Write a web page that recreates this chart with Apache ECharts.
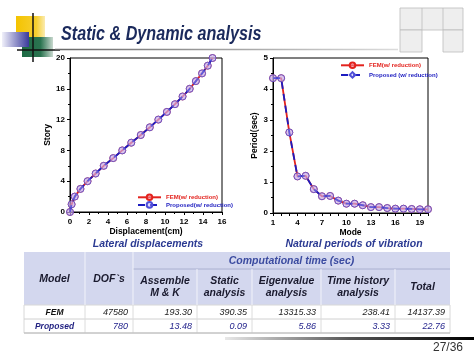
<!DOCTYPE html>
<html><head><meta charset="utf-8">
<script src="https://cdn.jsdelivr.net/npm/echarts@6/dist/echarts.min.js"></script>
<style>html,body{margin:0;padding:0;background:#fff}#c{width:474px;height:355px}</style>
</head><body><div id="c"></div>
<script>
// ---- data ----
const stories = [0,1,2,3,4,5,6,7,8,9,10,11,12,13,14,15,16,17,18,19,20];
const femDisp = [0,0.17,0.5,1.1,1.85,2.7,3.55,4.55,5.5,6.45,7.45,8.4,9.3,10.2,11.05,11.85,12.6,13.25,13.9,14.5,15.0];
const propDisp = [0,0.17,0.5,1.1,1.85,2.7,3.55,4.55,5.5,6.45,7.45,8.4,9.3,10.2,11.05,11.85,12.6,13.25,13.9,14.5,15.0];
const modes = [1,2,3,4,5,6,7,8,9,10,11,12,13,14,15,16,17,18,19,20];
const femPeriod = [4.35,4.35,2.6,1.18,1.2,0.77,0.54,0.55,0.4,0.3,0.3,0.25,0.19,0.19,0.16,0.14,0.14,0.13,0.12,0.12];
const propPeriod = [4.35,4.35,2.6,1.18,1.2,0.77,0.54,0.55,0.4,0.3,0.3,0.25,0.19,0.19,0.16,0.14,0.14,0.13,0.12,0.12];
const modeTicks = [1,4,7,10,13,16,19];

const tableModels = ['FEM','Proposed'];
const tableDofs = ['47580','780'];
const tAssemble = ['193.30','13.48'];
const tStatic = ['390.35','0.09'];
const tEigen = ['13315.33','5.86'];
const tTimeHist = ['238.41','3.33'];
const tTotal = ['14137.39','22.76'];
const headerCols = ['Assemble\nM & K','Static\nanalysis','Eigenvalue\nanalysis','Time history\nanalysis','Total'];

const FONT = '"Liberation Sans", Arial, sans-serif';
const RED = '#E3231E', BLUE = '#1C1CC0';
const chart = echarts.init(document.getElementById('c'), null, {renderer:'canvas'});
const G = echarts.graphic;

function axisCommon(){
  return {
    axisLine:{show:true,lineStyle:{color:'#000',width:1}},
    axisTick:{show:true,length:3,lineStyle:{color:'#000'}},
    minorTick:{show:true,splitNumber:2,length:2,lineStyle:{color:'#000'}},
    splitLine:{show:false},
    axisLabel:{color:'#000',fontSize:8,fontWeight:'bold',fontFamily:FONT,margin:5},
    nameTextStyle:{color:'#000',fontSize:8.5,fontWeight:'bold',fontFamily:FONT},
    nameLocation:'middle'
  };
}

// ---- table graphics ----
const cols = [24,85,133,197,252,321,395,450];
const rowsY = [252,269,305,319,333];
const HEAD = '#D3D7EE';
const tableEls = [];
tableEls.push({type:'rect',shape:{x:cols[0],y:rowsY[0],width:cols[7]-cols[0],height:rowsY[2]-rowsY[0]},style:{fill:HEAD}});
tableEls.push({type:'rect',shape:{x:cols[0],y:rowsY[2],width:cols[7]-cols[0],height:rowsY[4]-rowsY[2]},style:{fill:'#fff',stroke:'#d8d8d8',lineWidth:1}});
tableEls.push({type:'line',shape:{x1:cols[2],y1:rowsY[1],x2:cols[7],y2:rowsY[1]},style:{stroke:'#aab0d0',lineWidth:1}});
tableEls.push({type:'line',shape:{x1:cols[1],y1:rowsY[0],x2:cols[1],y2:rowsY[2]},style:{stroke:'#f2f3fa',lineWidth:1}});
tableEls.push({type:'line',shape:{x1:cols[2],y1:rowsY[0],x2:cols[2],y2:rowsY[2]},style:{stroke:'#f2f3fa',lineWidth:1}});
for(let i=3;i<7;i++) tableEls.push({type:'line',shape:{x1:cols[i],y1:rowsY[1],x2:cols[i],y2:rowsY[2]},style:{stroke:'#f2f3fa',lineWidth:1}});
tableEls.push({type:'line',shape:{x1:cols[0],y1:rowsY[3],x2:cols[7],y2:rowsY[3]},style:{stroke:'#d0d0d0',lineWidth:1}});
for(let i=1;i<7;i++) tableEls.push({type:'line',shape:{x1:cols[i],y1:rowsY[2],x2:cols[i],y2:rowsY[4]},style:{stroke:'#dcdcdc',lineWidth:1}});
tableEls.push({type:'line',shape:{x1:cols[0],y1:rowsY[4],x2:cols[7],y2:rowsY[4]},style:{stroke:'#b8b8b8',lineWidth:1}});
function txt(t,x,y,font,fill,align,lh){return {type:'text',style:{text:t,x:x,y:y,font:font,fill:fill,align:align||'center',verticalAlign:'middle',lineHeight:lh||12}};}
const HF = 'italic bold 10.5px '+FONT;
tableEls.push(txt('Model',(cols[0]+cols[1])/2,279,HF,'#1a1a2e'));
tableEls.push(txt('DOF`s',(cols[1]+cols[2])/2,279,HF,'#1a1a2e'));
tableEls.push(txt('Computational time (sec)',(cols[2]+cols[7])/2,261,HF,'#3B4BA0'));
headerCols.forEach((h,i)=>tableEls.push(txt(h,(cols[i+2]+cols[i+3])/2,287,HF,'#1a1a2e')));
const numCols = [tableDofs,tAssemble,tStatic,tEigen,tTimeHist,tTotal];
tableModels.forEach((m,r)=>{
  const cy = (rowsY[r+2]+rowsY[r+3])/2+0.5;
  const col = r===0?'#222':'#23238C';
  tableEls.push(txt(m,(cols[0]+cols[1])/2,cy,'italic bold 8.5px '+FONT,r===0?'#111':'#1F1F80'));
  numCols.forEach((arr,j)=>tableEls.push(txt(arr[r],cols[j+2]-5,cy,'italic 9px '+FONT,col,'right')));
});

// ---- decorations ----
const deco = [
  {type:'rect',shape:{x:16,y:16,width:29,height:22},style:{fill:new G.LinearGradient(0,0,1,0,[{offset:0,color:'#F4C300'},{offset:0.7,color:'#F6CF30'},{offset:1,color:'#FBEBB0'}])}},
  {type:'rect',shape:{x:22,y:37,width:31,height:20},style:{fill:new G.LinearGradient(0,0,1,0,[{offset:0,color:'#1D6A44'},{offset:0.6,color:'#2B7450'},{offset:1,color:'#C8D8CE'}])}},
  {type:'rect',shape:{x:2,y:32,width:27,height:15},style:{fill:new G.LinearGradient(0,0,1,0,[{offset:0,color:'#F0F0FA'},{offset:1,color:'#3A3A9C'}])}},
  {type:'line',shape:{x1:33,y1:13,x2:33,y2:62},style:{stroke:'#111',lineWidth:1.5}},
  {type:'line',shape:{x1:17,y1:50,x2:60,y2:50},style:{stroke:'#111',lineWidth:1.5}},
  {type:'line',shape:{x1:55,y1:49.5,x2:398,y2:49.5},style:{stroke:new G.LinearGradient(0,0,1,0,[{offset:0,color:'#666'},{offset:1,color:'#ddd'}]),lineWidth:1.5}},
  {type:'text',x:61,y:34,scaleX:0.77,style:{text:'Static & Dynamic analysis',x:0,y:0,font:'italic bold 21px '+FONT,fill:'#1B2A5C',verticalAlign:'middle'}},
  {type:'rect',shape:{x:400,y:8,width:63,height:22},style:{fill:'#EEEEEE',stroke:'#bbb',lineWidth:0.8}},
  {type:'rect',shape:{x:400,y:30,width:22,height:22},style:{fill:'#EEEEEE',stroke:'#bbb',lineWidth:0.8}},
  {type:'rect',shape:{x:443,y:30,width:20,height:22},style:{fill:'#EEEEEE',stroke:'#bbb',lineWidth:0.8}},
  {type:'line',shape:{x1:422,y1:8,x2:422,y2:30},style:{stroke:'#bbb',lineWidth:0.8}},
  {type:'line',shape:{x1:443,y1:8,x2:443,y2:30},style:{stroke:'#bbb',lineWidth:0.8}},
  {type:'text',style:{text:'Lateral displacements',x:148,y:244,font:'italic bold 10.5px '+FONT,fill:'#2B3A92',align:'center',verticalAlign:'middle'}},
  {type:'text',style:{text:'Natural periods of vibration',x:354,y:244,font:'italic bold 10.5px '+FONT,fill:'#2B3A92',align:'center',verticalAlign:'middle'}},
  {type:'rect',shape:{x:225,y:337,width:249,height:3},style:{fill:new G.LinearGradient(0,0,1,0,[{offset:0,color:'#e8e8e8'},{offset:0.5,color:'#555'},{offset:1,color:'#000'}])}},
  {type:'text',style:{text:'27/36',x:463,y:348,font:'12px '+FONT,fill:'#333',align:'right',verticalAlign:'middle'}}
];

const leftX = Object.assign(axisCommon(),{gridIndex:0,type:'value',min:0,max:16,interval:2,name:'Displacement(cm)',nameGap:15});
leftX.axisLabel = Object.assign({},leftX.axisLabel,{margin:6});
const leftY = Object.assign(axisCommon(),{gridIndex:0,type:'value',min:0,max:20,interval:4,name:'Story',nameGap:17});
const rightX = Object.assign(axisCommon(),{gridIndex:1,type:'value',min:1,max:20,interval:1,name:'Mode',nameGap:14});
rightX.minorTick = {show:false};
rightX.axisLabel = Object.assign({},rightX.axisLabel,{margin:6,formatter:v=>modeTicks.indexOf(v)>=0?String(v):''});
const rightY = Object.assign(axisCommon(),{gridIndex:1,type:'value',min:0,max:5,interval:1,name:'Period(sec)',nameGap:14});

function femSeries(x,y,data){return {type:'line',name:'FEM(w/ reduction)',xAxisIndex:x,yAxisIndex:y,data:data,symbol:'circle',symbolSize:7,
  lineStyle:{color:RED,width:1.8},itemStyle:{color:'rgba(245,170,190,0.45)',borderColor:RED,borderWidth:0.8},z:2,animation:false};}
function propSeries(name,x,y,data,sym){return {type:'line',name:name,xAxisIndex:x,yAxisIndex:y,data:data,symbol:sym,symbolSize:7,
  lineStyle:{color:BLUE,width:1.8,type:[7,5]},itemStyle:{color:'rgba(180,170,250,0.45)',borderColor:'#5050d8',borderWidth:0.8},z:3,animation:false};}

chart.setOption({
  backgroundColor:'#fff',
  animation:false,
  textStyle:{fontFamily:FONT},
  grid:[
    {left:70,top:58,width:152,height:154,show:true,borderColor:'#000',borderWidth:1,backgroundColor:'transparent'},
    {left:273,top:58,width:155,height:155,show:true,borderColor:'#000',borderWidth:1,backgroundColor:'transparent'}
  ],
  xAxis:[leftX,rightX],
  yAxis:[leftY,rightY],
  legend:[
    {left:137,top:193.5,padding:0,orient:'vertical',itemGap:0,itemWidth:23,itemHeight:7,
     textStyle:{fontSize:6,fontWeight:'bold',fontFamily:FONT},
     data:[{name:'FEM(w/ reduction)',textStyle:{color:RED}},{name:'Proposed(w/ reduction)',textStyle:{color:BLUE}}]},
    {left:340,top:61.5,padding:0,orient:'vertical',itemGap:2,itemWidth:23,itemHeight:7,
     textStyle:{fontSize:6,fontWeight:'bold',fontFamily:FONT},
     data:[{name:'FEM(w/ reduction)',textStyle:{color:RED}},{name:'Proposed (w/ reduction)',textStyle:{color:BLUE}}]}
  ],
  series:[
    femSeries(0,0,stories.map((s,i)=>[femDisp[i],s])),
    propSeries('Proposed(w/ reduction)',0,0,stories.map((s,i)=>[propDisp[i],s]),'circle'),
    femSeries(1,1,modes.map((m,i)=>[m,femPeriod[i]])),
    propSeries('Proposed (w/ reduction)',1,1,modes.map((m,i)=>({value:[m,propPeriod[i]],symbol:'circle'})),'diamond')
  ],
  graphic:{elements:deco.concat(tableEls)}
});
</script></body></html>
